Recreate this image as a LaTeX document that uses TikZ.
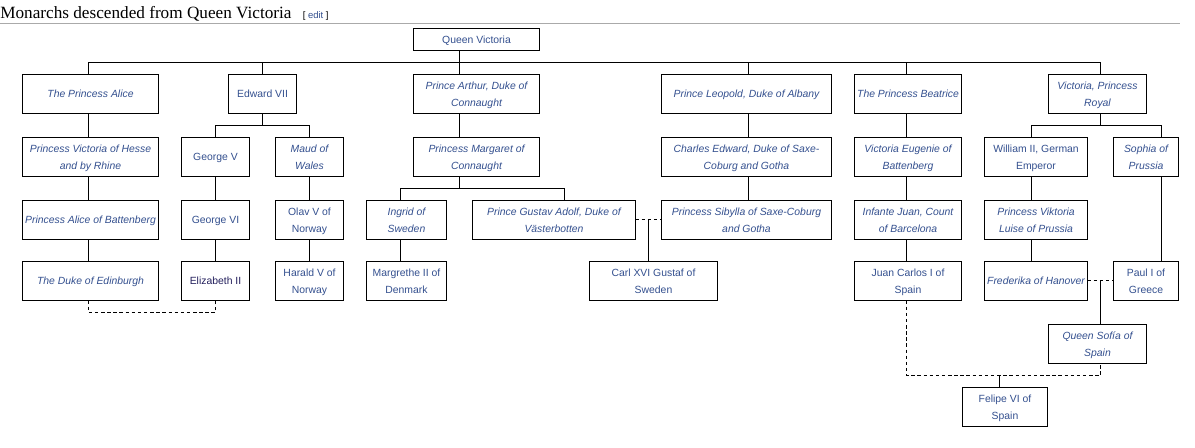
\documentclass[tikz,border=0pt]{standalone}
\usepackage{fontspec}
\setmainfont{Liberation Sans}
\newfontfamily\headfont{Liberation Serif}
\definecolor{linkblue}{HTML}{34508F}
\definecolor{selfblue}{HTML}{221E5C}
\definecolor{rulegray}{HTML}{AAAAAA}
\tikzset{
  person/.style={draw=black,line width=0.8pt,inner sep=0pt,outer sep=0pt,
    text=linkblue,font=\fontsize{7.8}{12.75}\selectfont},
  personit/.style={person,font=\fontsize{7.8}{12.75}\selectfont\itshape},
  link/.style={draw=black,line width=0.8pt,line cap=rect},
  marriage/.style={draw=black,line width=0.8pt,dash pattern=on 2.6pt off 2pt},
}
% [style]{name}{left}{top}{right}{bottom}{text}
\newcommand{\pers}[7][person]{%
  \pgfmathsetmacro{\pw}{(#5-#3)*0.75}%
  \pgfmathsetmacro{\ph}{(#6-#4)*0.75}%
  \pgfmathsetmacro{\px}{(#3+#5)/2}%
  \pgfmathsetmacro{\py}{(#4+#6)/2}%
  \node[#1,minimum width=\pw pt,minimum height=\ph pt] (#2) at (\px,\py)
    {\vbox{\kern0.7pt\hbox{\begin{tabular}{@{}c@{}}#7\end{tabular}}}};%
}
\begin{document}
\begin{tikzpicture}[x=0.75pt,y=-0.75pt]
\useasboundingbox (0,0) rectangle (1195,447);
\fill[white] (0,0) rectangle (1195,447);
% heading
\node[anchor=base west,inner sep=0pt,font=\fontsize{12.9}{16}\headfont] (title) at (0,18.5) {Monarchs descended from Queen Victoria};
\node[anchor=base west,inner sep=0pt,font=\fontsize{7.1}{9}\selectfont] (editlink) at (302.5,18) {[ \textcolor{linkblue}{edit} ]};
\draw[rulegray,line width=0.75pt] (0,23.5) -- (1180,23.5);
% column positions of the connectors
\coordinate (xa) at (88.5,0);
\coordinate (xb) at (262.5,0);
\coordinate (xc) at (459.5,0);
\coordinate (xd) at (748.5,0);
\coordinate (xe) at (906.5,0);
\coordinate (xf) at (1100.5,0);
\coordinate (xg) at (215.5,0);
\coordinate (xh) at (309.5,0);
\coordinate (xi) at (400.5,0);
\coordinate (xj) at (564.5,0);
\coordinate (xk) at (648.5,0);
\coordinate (xl) at (1031.5,0);
\coordinate (xm) at (1161.5,0);
\coordinate (xn) at (999.5,0);
% bus levels
\coordinate (ya) at (0,62.5);
\coordinate (yb) at (0,125.5);
\coordinate (yc) at (0,188.5);
\coordinate (yd) at (0,312.5);
\coordinate (ye) at (0,375.5);
\coordinate (yf) at (0,219.5);
\coordinate (yg) at (0,280.5);
% people
\pers{queen}{413.5}{28.5}{539.5}{50.5}{Queen Victoria}
\pers[personit]{alice}{22.5}{74.5}{158.5}{113.5}{The Princess Alice}
\pers{edward}{228.5}{74.5}{296.5}{113.5}{Edward VII}
\pers[personit]{arthur}{413.5}{74.5}{539.5}{113.5}{Prince Arthur, Duke of\\Connaught}
\pers[personit]{leopold}{661.5}{74.5}{831.5}{113.5}{Prince Leopold, Duke of Albany}
\pers[personit]{beatrice}{854.5}{74.5}{961.5}{113.5}{The Princess Beatrice}
\pers[personit]{vicroyal}{1048.5}{74.5}{1146.5}{113.5}{Victoria, Princess\\Royal}
\pers[personit]{hesse}{22.5}{137.5}{158.5}{176.5}{Princess Victoria of Hesse\\and by Rhine}
\pers{george5}{181.5}{137.5}{249.5}{176.5}{George V}
\pers[personit]{maud}{275.5}{137.5}{343.5}{176.5}{Maud of\\Wales}
\pers[personit]{margaret}{413.5}{137.5}{539.5}{176.5}{Princess Margaret of\\Connaught}
\pers[personit]{charles}{661.5}{137.5}{831.5}{176.5}{Charles Edward, Duke of Saxe-\\Coburg and Gotha}
\pers[personit]{eugenie}{854.5}{137.5}{961.5}{176.5}{Victoria Eugenie of\\Battenberg}
\pers{william}{984.5}{137.5}{1087.5}{176.5}{William II, German\\Emperor}
\pers[personit]{sophia}{1113.5}{137.5}{1178.5}{176.5}{Sophia of\\Prussia}
\pers[personit]{battenberg}{22.5}{200.5}{158.5}{239.5}{Princess Alice of Battenberg}
\pers{george6}{181.5}{200.5}{249.5}{239.5}{George VI}
\pers{olav}{275.5}{200.5}{343.5}{239.5}{Olav V of\\Norway}
\pers[personit]{ingrid}{366.5}{200.5}{446.5}{239.5}{Ingrid of\\Sweden}
\pers[personit]{gustav}{472.5}{200.5}{635.5}{239.5}{Prince Gustav Adolf, Duke of\\Västerbotten}
\pers[personit]{sibylla}{661.5}{200.5}{831.5}{239.5}{Princess Sibylla of Saxe-Coburg\\and Gotha}
\pers[personit]{juan}{854.5}{200.5}{961.5}{239.5}{Infante Juan, Count\\of Barcelona}
\pers[personit]{viktoria}{984.5}{200.5}{1087.5}{239.5}{Princess Viktoria\\Luise of Prussia}
\pers[personit]{edinburgh}{22.5}{261.5}{158.5}{300.5}{The Duke of Edinburgh}
\pers[person,text=selfblue]{elizabeth}{181.5}{261.5}{249.5}{300.5}{Elizabeth II}
\pers{harald}{275.5}{261.5}{343.5}{300.5}{Harald V of\\Norway}
\pers{margrethe}{366.5}{261.5}{446.5}{300.5}{Margrethe II of\\Denmark}
\pers{carl}{589.5}{261.5}{717.5}{300.5}{Carl XVI Gustaf of\\Sweden}
\pers{juancarlos}{854.5}{261.5}{961.5}{300.5}{Juan Carlos I of\\Spain}
\pers[personit]{frederika}{984.5}{261.5}{1087.5}{300.5}{Frederika of Hanover}
\pers{paul}{1113.5}{261.5}{1178.5}{300.5}{Paul I of\\Greece}
\pers[personit]{sofia}{1048.5}{324.5}{1146.5}{363.5}{Queen Sofía of\\Spain}
\pers{felipe}{962.5}{387.5}{1047.5}{426.5}{Felipe VI of\\Spain}
% Victoria's children
\draw[link] (queen.south -| xc) -- (arthur.north -| xc);
\draw[link] (xa |- ya) -- (xf |- ya);
\draw[link] (xa |- ya) -- (alice.north -| xa);
\draw[link] (xb |- ya) -- (edward.north -| xb);
\draw[link] (xd |- ya) -- (leopold.north -| xd);
\draw[link] (xe |- ya) -- (beatrice.north -| xe);
\draw[link] (xf |- ya) -- (vicroyal.north -| xf);
% Alice line
\draw[link] (alice.south -| xa) -- (hesse.north -| xa);
\draw[link] (hesse.south -| xa) -- (battenberg.north -| xa);
\draw[link] (battenberg.south -| xa) -- (edinburgh.north -| xa);
% Edward line
\draw[link] (edward.south -| xb) -- (xb |- yb);
\draw[link] (george5.north -| xg) -- (xg |- yb) -- (xh |- yb) -- (maud.north -| xh);
\draw[link] (george5.south -| xg) -- (george6.north -| xg);
\draw[link] (george6.south -| xg) -- (elizabeth.north -| xg);
\draw[link] (maud.south -| xh) -- (olav.north -| xh);
\draw[link] (olav.south -| xh) -- (harald.north -| xh);
% Arthur line
\draw[link] (arthur.south -| xc) -- (margaret.north -| xc);
\draw[link] (margaret.south -| xc) -- (xc |- yc);
\draw[link] (ingrid.north -| xi) -- (xi |- yc) -- (xj |- yc) -- (gustav.north -| xj);
\draw[link] (ingrid.south -| xi) -- (margrethe.north -| xi);
\draw[marriage] (gustav.east |- yf) -- (sibylla.west |- yf);
\draw[link] (xk |- yf) -- (carl.north -| xk);
% Leopold line
\draw[link] (leopold.south -| xd) -- (charles.north -| xd);
\draw[link] (charles.south -| xd) -- (sibylla.north -| xd);
% Beatrice line
\draw[link] (beatrice.south -| xe) -- (eugenie.north -| xe);
\draw[link] (eugenie.south -| xe) -- (juan.north -| xe);
\draw[link] (juan.south -| xe) -- (juancarlos.north -| xe);
% Princess Royal line
\draw[link] (vicroyal.south -| xf) -- (xf |- yb);
\draw[link] (william.north -| xl) -- (xl |- yb) -- (xm |- yb) -- (sophia.north -| xm);
\draw[link] (william.south -| xl) -- (viktoria.north -| xl);
\draw[link] (viktoria.south -| xl) -- (frederika.north -| xl);
\draw[link] (sophia.south -| xm) -- (paul.north -| xm);
\draw[marriage] (frederika.east |- yg) -- (paul.west |- yg);
\draw[link] (xf |- yg) -- (sofia.north -| xf);
% marriages
\draw[marriage] (edinburgh.south -| xa) -- (xa |- yd) -- (xg |- yd) -- (elizabeth.south -| xg);
\draw[marriage] (juancarlos.south -| xe) -- (xe |- ye) -- (xf |- ye) -- (sofia.south -| xf);
\draw[link] (xn |- ye) -- (felipe.north -| xn);
\end{tikzpicture}
\end{document}
